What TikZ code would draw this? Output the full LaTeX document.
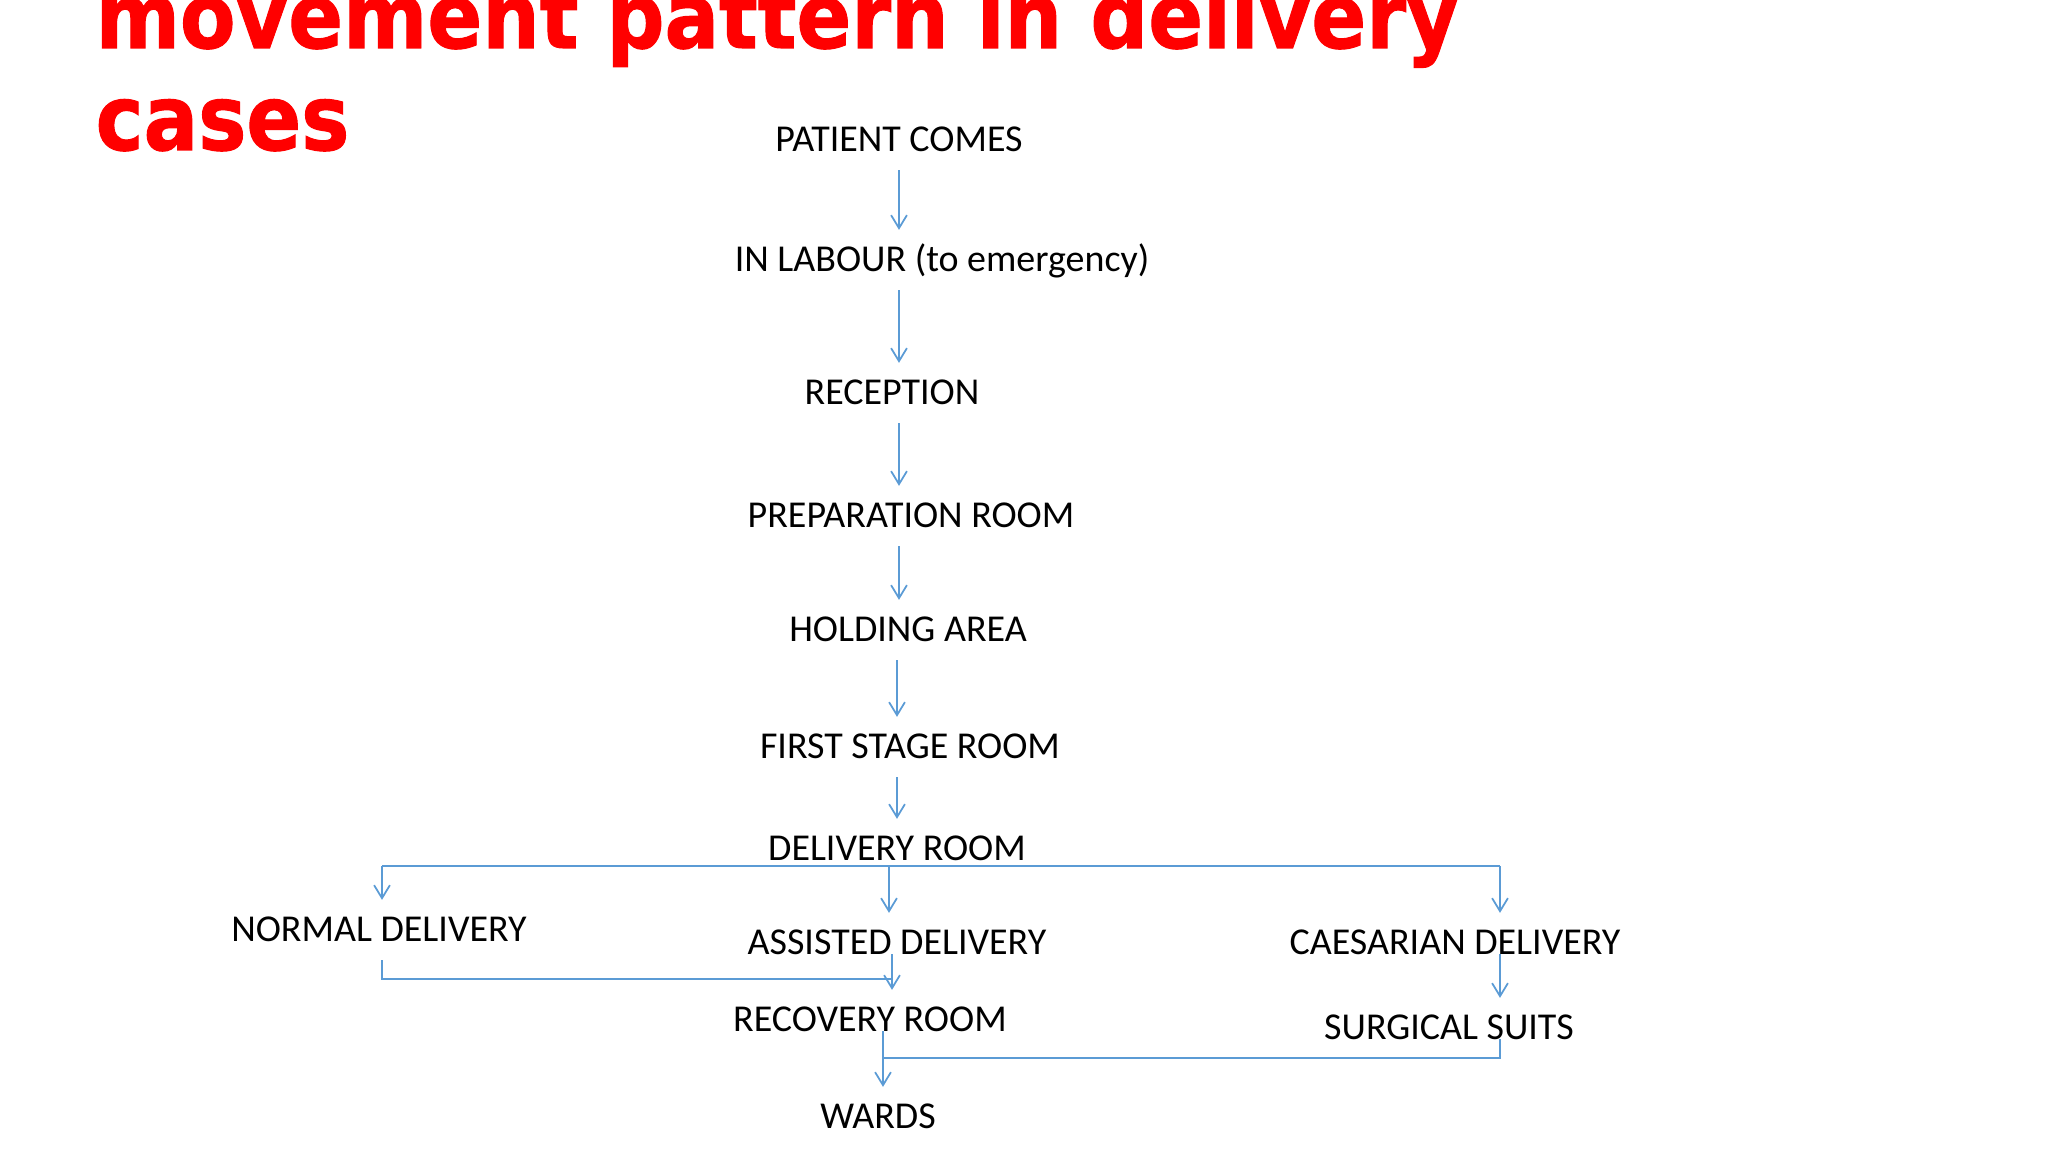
\documentclass[tikz,border=0pt]{standalone}
\usepackage{fontspec}
\setmainfont{Carlito}
\newfontfamily\headfont{DejaVu Sans Bold}[FakeBold=1.2]
\usepackage{graphicx}
\usetikzlibrary{arrows.meta,positioning}
\definecolor{flowblue}{RGB}{91,155,213}
\definecolor{headred}{RGB}{255,0,0}

\begin{document}
\begin{tikzpicture}[
  x=0.01cm, y=-0.01cm,
  head/.style={font=\headfont\fontsize{23}{27}\selectfont, text=headred, inner sep=0pt, anchor=base west},
  stage/.style={font=\fontsize{10.8}{13}\selectfont, text height=0.65em, text depth=0pt, inner xsep=2pt, inner ysep=0.18cm},
  conn/.style={draw=flowblue, line width=0.5pt},
  arr/.style={conn, -{Straight Barb[length=3.7pt,width=4.5pt]}}
]
  \useasboundingbox (0,0) rectangle (2048,1152);
  % heading
  \node[head] (head1) at (95,48) {\scalebox{1}[1.12]{movement pattern in delivery}};
  \node[head] (head2) at (95,150) {\scalebox{1}[1.12]{cases}};
  % main chain
  \node[stage] (pc) at (899,140) {PATIENT COMES};
  \node[stage] (lab) at (942,260) {IN LABOUR (to emergency)};
  \node[stage] (rec) at (892,393) {RECEPTION};
  \node[stage] (prep) at (911,516) {PREPARATION ROOM};
  \node[stage] (hold) at (908,630) {HOLDING AREA};
  \node[stage] (first) at (910,747) {FIRST STAGE ROOM};
  \node[stage] (del) at (897,849) {DELIVERY ROOM};
  % delivery types
  \node[stage] (normal) at (379,930) {NORMAL DELIVERY};
  \node[stage] (asst) at (897,943) {ASSISTED DELIVERY};
  \node[stage] (caes) at (1455,943) {CAESARIAN DELIVERY};
  \node[stage] (recov) at (870,1020) {RECOVERY ROOM};
  \node[stage] (surg) at (1449,1028) {SURGICAL SUITS};
  \node[stage] (wards) at (878,1117) {WARDS};
  % junction points
  \coordinate (bl) at (382,866);
  \coordinate (split) at (889,866);
  \coordinate (br) at (1500,866);
  \coordinate (j1) at (892,979);
  \coordinate (j2) at (883,1058);
  % arrows down the chain
  \draw[arr] (pc.south) -- (pc.south |- lab.north);
  \draw[arr] (lab.south -| pc) -- (rec.north -| pc);
  \draw[arr] (rec.south -| pc) -- (prep.north -| pc);
  \draw[arr] (prep.south -| pc) -- (hold.north -| pc);
  \draw[arr] (hold.south -| del) -- (first.north -| del);
  \draw[arr] (first.south -| del) -- (del.north);
  % branching
  \draw[conn] (bl) -- (br);
  \draw[arr] (bl) -- (bl |- normal.north);
  \draw[arr] (split) -- (split |- asst.north);
  \draw[arr] (br) -- (br |- caes.north);
  \draw[conn] (normal.south -| bl) |- (j1);
  \draw[arr] (asst.base -| j1) -- (recov.north -| j1);
  \draw[arr] (caes.base -| br) -- (surg.north -| br);
  \draw[conn] (surg.base -| br) |- (j2);
  \draw[arr] (recov.base -| j2) -- (wards.north -| j2);
\end{tikzpicture}
\end{document}
